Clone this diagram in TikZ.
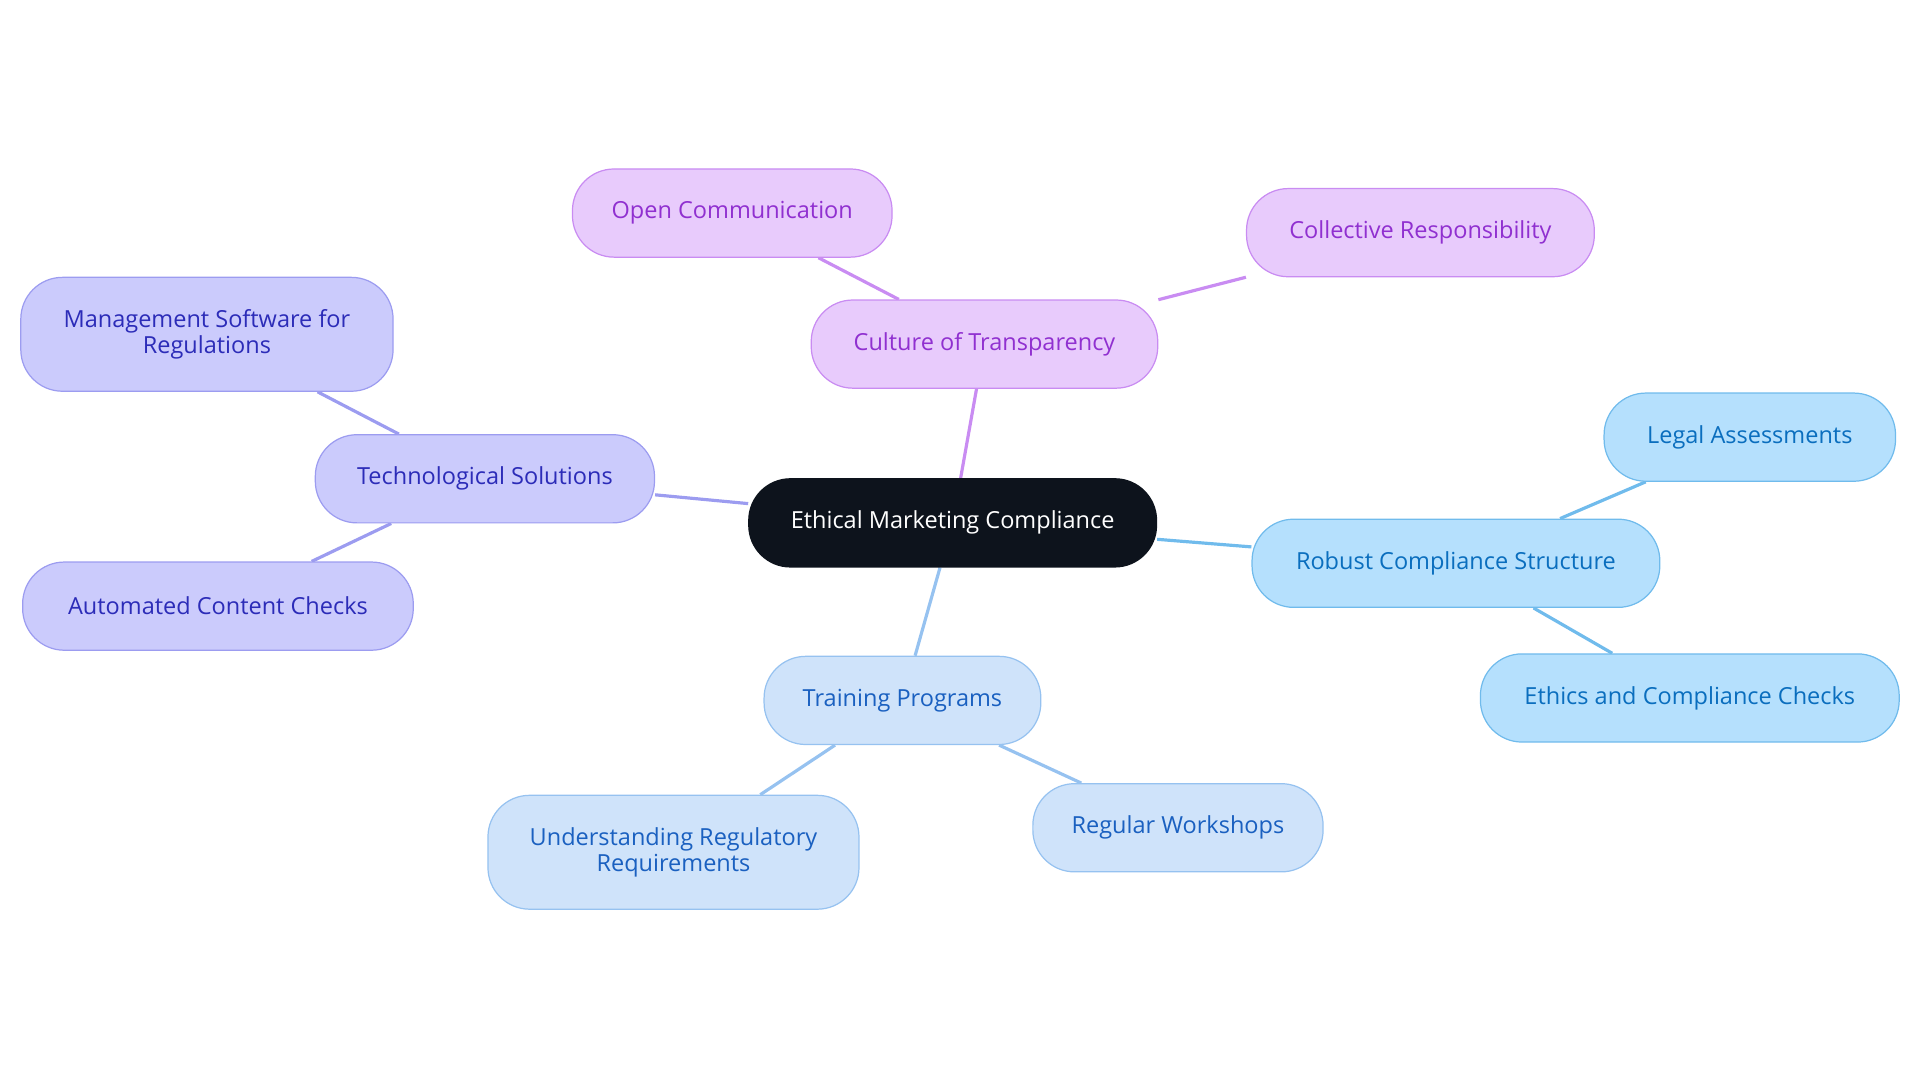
\documentclass[tikz,border=0pt]{standalone}
\usepackage{fontspec}
\setmainfont{Open Sans}
\usetikzlibrary{backgrounds}
\definecolor{rootFill}{HTML}{0D131C}
\definecolor{purFill}{HTML}{E8CBFC}\definecolor{purDraw}{HTML}{C98CF2}\definecolor{purText}{HTML}{9030D0}
\definecolor{vioFill}{HTML}{CBCBFC}\definecolor{vioDraw}{HTML}{9C9CF0}\definecolor{vioText}{HTML}{2C2CB8}
\definecolor{bluFill}{HTML}{CFE3FA}\definecolor{bluDraw}{HTML}{96C2F0}\definecolor{bluText}{HTML}{1A60C0}
\definecolor{skyFill}{HTML}{B5E0FD}\definecolor{skyDraw}{HTML}{70BBEC}\definecolor{skyText}{HTML}{0A6EBE}
\tikzset{
  box/.style={rounded corners=17pt,minimum height=36pt,align=center,font=\fontsize{9.6}{10.8}\selectfont,line width=0.5pt,inner sep=0pt},
  rootbox/.style={box,fill=rootFill,draw=rootFill,text=white},
  purbox/.style={box,fill=purFill,draw=purDraw,text=purText},
  viobox/.style={box,fill=vioFill,draw=vioDraw,text=vioText},
  blubox/.style={box,fill=bluFill,draw=bluDraw,text=bluText},
  skybox/.style={box,fill=skyFill,draw=skyDraw,text=skyText},
  link/.style={line width=1.3pt}
}
\begin{document}
\begin{tikzpicture}[x=0.5pt,y=-0.5pt]
\path[use as bounding box] (0,0) rectangle (1568,884);

\node[rootbox,minimum width=166.5pt] (root) at (778,427) {Ethical Marketing Compliance};

\node[purbox,minimum width=141.5pt] (culture) at (804,281) {Culture of Transparency};
\node[purbox,minimum width=130.5pt] (open) at (598,174) {Open Communication};
\node[purbox,minimum width=142pt] (collective) at (1160,190) {Collective Responsibility};

\node[viobox,minimum width=138.5pt] (tech) at (396,391) {Technological Solutions};
\node[viobox,minimum width=152pt,minimum height=46.5pt] (software) at (169,273) {Management Software for\\Regulations};
\node[viobox,minimum width=159.5pt] (automated) at (178,495) {Automated Content Checks};

\node[blubox,minimum width=113pt] (training) at (737,572) {Training Programs};
\node[blubox,minimum width=151.5pt,minimum height=46.5pt] (regulatory) at (550,696) {Understanding Regulatory\\Requirements};
\node[blubox,minimum width=118.5pt] (workshops) at (962,676) {Regular Workshops};

\node[skybox,minimum width=166.5pt] (robust) at (1189,460) {Robust Compliance Structure};
\node[skybox,minimum width=119pt] (legal) at (1429,357) {Legal Assessments};
\node[skybox,minimum width=171pt] (ethics) at (1380,570) {Ethics and Compliance Checks};

\begin{scope}[on background layer]
\draw[link,purDraw] (root) -- (culture);
\draw[link,purDraw] (culture.north west) ++(72,0) -- (open);
\draw[link,purDraw] (culture) -- (collective);
\draw[link,vioDraw] (root) -- (tech);
\draw[link,vioDraw] (tech) -- (software);
\draw[link,vioDraw] (tech) -- (automated);
\draw[link,bluDraw] (root) -- (training);
\draw[link,bluDraw] (training) -- (regulatory);
\draw[link,bluDraw] (training) -- (workshops);
\draw[link,skyDraw] (root) -- (robust);
\draw[link,skyDraw] (robust) -- (legal);
\draw[link,skyDraw] (robust) -- (ethics);
\end{scope}
\end{tikzpicture}
\end{document}
